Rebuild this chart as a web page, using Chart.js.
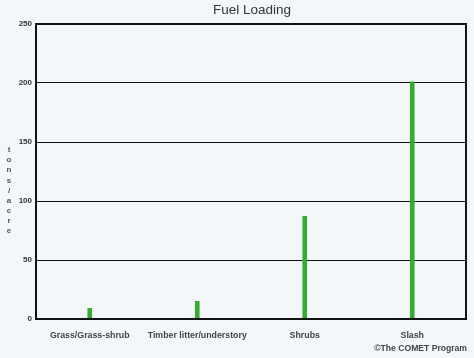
<!DOCTYPE html>
<html>
<head>
<meta charset="utf-8">
<script src="https://cdn.jsdelivr.net/npm/chart.js@4"></script>
<style>
html,body{margin:0;padding:0;background:#f4f7fa;}
#wrap{width:474px;height:358px;position:relative;}
</style>
</head>
<body>
<div id="wrap"><canvas id="c" width="474" height="358"></canvas></div>
<script>
const categories = ["Grass/Grass-shrub", "Timber litter/understory", "Shrubs", "Slash"];
const fuelLoading = [9, 15, 87, 201];
const yTicks = [0, 50, 100, 150, 200, 250];
const chartTitle = "Fuel Loading";
const yTitle = "tons/acre";
const credit = "\u00A9The COMET Program";

const decor = {
  id: 'decor',
  beforeDraw(chart) {
    const ctx = chart.ctx;
    ctx.save();
    ctx.fillStyle = '#f4f7fa';
    ctx.fillRect(0, 0, chart.width, chart.height);
    ctx.restore();
  },
  afterDraw(chart) {
    const ctx = chart.ctx, a = chart.chartArea;
    ctx.save();
    ctx.strokeStyle = '#111';
    ctx.lineWidth = 2;
    ctx.strokeRect(a.left, a.top, a.right - a.left, a.bottom - a.top);
    ctx.fillStyle = '#333';
    ctx.font = '13.5px "Liberation Sans", Arial, sans-serif';
    ctx.textAlign = 'center';
    ctx.textBaseline = 'middle';
    ctx.fillText(chartTitle, 252, 10);
    ctx.font = 'bold 8px "Liberation Sans", Arial, sans-serif';
    ctx.fillStyle = '#555';
    const chars = yTitle.split('');
    chars.forEach((ch, i) => ctx.fillText(ch, 9, 150 + i * 10.1));
    ctx.textAlign = 'right';
    ctx.fillStyle = '#444';
    ctx.font = 'bold 8.6px "Liberation Sans", Arial, sans-serif';
    ctx.fillText(credit, 467, 349);
    ctx.restore();
  }
};

new Chart(document.getElementById('c'), {
  type: 'bar',
  data: {
    labels: categories,
    datasets: [{
      data: fuelLoading,
      backgroundColor: '#3aaa35',
      borderWidth: 0,
      barThickness: 4
    }]
  },
  options: {
    responsive: false,
    animation: false,
    layout: { padding: { left: 0, right: 8, top: 24, bottom: 0 } },
    plugins: { legend: { display: false }, title: { display: false }, tooltip: { enabled: false } },
    scales: {
      x: {
        grid: { display: false, drawTicks: false },
        border: { display: false },
        ticks: { color: '#444', font: { size: 8.8, weight: 'bold', family: '"Liberation Sans", Arial, sans-serif' }, padding: 11, maxRotation: 0, autoSkip: false },
        afterFit(s) { s.height = 39; }
      },
      y: {
        min: 0, max: 250,
        afterBuildTicks(s) { s.ticks = yTicks.map(v => ({ value: v })); },
        grid: { color: '#111', lineWidth: 1, drawTicks: false },
        border: { display: false },
        ticks: { color: '#333', font: { size: 8, weight: 'bold', family: '"Liberation Sans", Arial, sans-serif' }, padding: 4 },
        afterFit(s) { s.width = 36; }
      }
    }
  },
  plugins: [decor]
});
</script>
</body>
</html>
